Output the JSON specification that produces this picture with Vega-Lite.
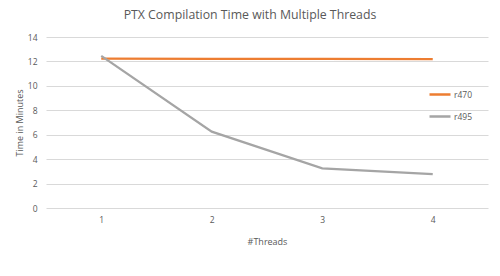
{
  "$schema": "https://vega.github.io/schema/vega-lite/v6.json",
  "autosize": {"type": "none"},
  "padding": {"left": 46, "top": 37, "right": 12, "bottom": 68},
  "width": 442,
  "height": 171,
  "background": "white",
  "title": {
    "text": "PTX Compilation Time with Multiple Threads",
    "font": "Open Sans",
    "fontSize": 12.3,
    "fontWeight": "normal",
    "color": "#595959",
    "anchor": "middle",
    "dx": -17,
    "offset": 12
  },
  "data": {
    "values": [
      {"threads": "1", "series": "r470", "minutes": 12.22},
      {"threads": "2", "series": "r470", "minutes": 12.2},
      {"threads": "3", "series": "r470", "minutes": 12.2},
      {"threads": "4", "series": "r470", "minutes": 12.19},
      {"threads": "1", "series": "r495", "minutes": 12.45},
      {"threads": "2", "series": "r495", "minutes": 6.25},
      {"threads": "3", "series": "r495", "minutes": 3.24},
      {"threads": "4", "series": "r495", "minutes": 2.78}
    ]
  },
  "mark": {"type": "line", "strokeWidth": 2.25},
  "encoding": {
    "x": {
      "field": "threads",
      "type": "ordinal",
      "scale": {"type": "point", "padding": 0.5},
      "axis": {
        "title": "#Threads",
        "labelAngle": 0,
        "grid": false,
        "ticks": false,
        "domain": false,
        "labelPadding": 7,
        "titlePadding": 14,
        "labelFont": "Open Sans",
        "labelFontSize": 8.5,
        "labelColor": "#595959",
        "titleFont": "Open Sans",
        "titleFontSize": 9,
        "titleFontWeight": "normal",
        "titleColor": "#595959"
      }
    },
    "y": {
      "field": "minutes",
      "type": "quantitative",
      "scale": {"domain": [0, 14], "nice": false},
      "axis": {
        "title": "Time in Minutes",
        "values": [0, 2, 4, 6, 8, 10, 12, 14],
        "grid": true,
        "gridColor": "#d9d9d9",
        "gridWidth": 1,
        "ticks": false,
        "domain": false,
        "labelPadding": 9,
        "titlePadding": 3,
        "labelFont": "Open Sans",
        "labelFontSize": 8.5,
        "labelColor": "#595959",
        "titleFont": "Open Sans",
        "titleFontSize": 9,
        "titleFontWeight": "normal",
        "titleColor": "#595959"
      }
    },
    "color": {
      "field": "series",
      "type": "nominal",
      "scale": {"domain": ["r470", "r495"], "range": ["#ED7D31", "#A5A5A5"]},
      "legend": {
        "title": null,
        "orient": "none",
        "legendX": 382,
        "legendY": 45.5,
        "padding": 0,
        "symbolType": "stroke",
        "symbolSize": 441,
        "symbolStrokeWidth": 2.5,
        "rowPadding": 5,
        "labelOffset": 2,
        "labelFont": "Open Sans",
        "labelFontSize": 8.5,
        "labelColor": "#595959"
      }
    }
  },
  "config": {"view": {"stroke": null}}
}
